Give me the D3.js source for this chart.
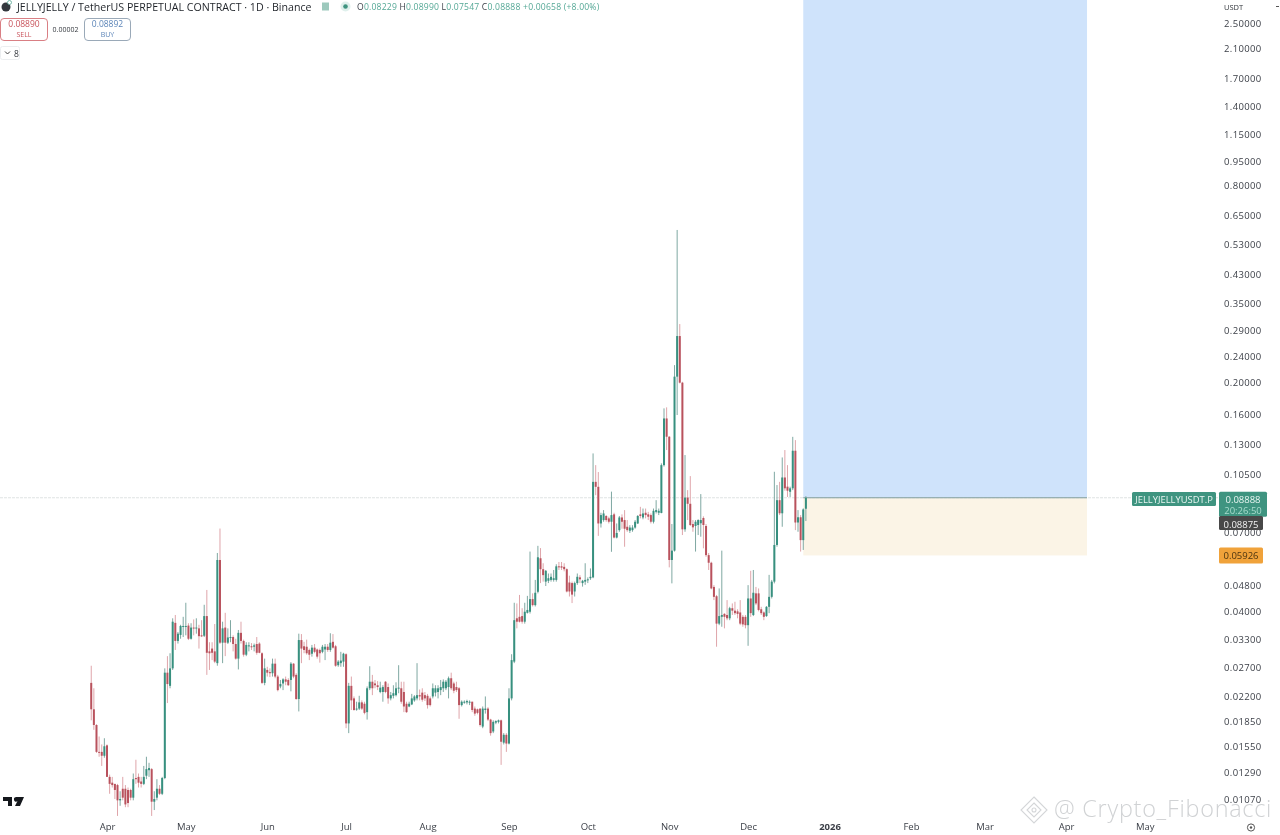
<!DOCTYPE html>
<html>
<head>
<meta charset="utf-8">
<script src="https://cdn.jsdelivr.net/npm/d3@7"></script>
<style>
  html, body { margin: 0; padding: 0; background: #fff; overflow: hidden; }
  svg { display: block; filter: blur(0.35px); }
  text { font-family: "Open Sans", "Noto Sans", sans-serif; }
  .axis path, .axis line { display: none; }
</style>
</head>
<body>
<div id="chart"></div>
<script>
// daily candles, first one is 2025-03-26
const firstDay = new Date(2025, 2, 26);

const opens = [
  .0242,.0201,.0180,.0149,.0149,.0145,.0156,.0125,.0120,.0119,
  .0118,.0106,.0115,.0115,.0114,.0114,.0108,.0124,.0125,.0121,
  .0119,.0126,.0131,.0132,.0105,.0108,.0115,.0111,.0124,.0260,
  .0237,.0268,.0369,.0325,.0339,.0359,.0359,.0362,.0330,.0357,
  .0355,.0355,.0338,.0337,.0387,.0302,.0308,.0302,.0278,.0574,
  .0321,.0357,.0321,.0333,.0334,.0318,.0287,.0344,.0325,.0295,
  .0313,.0313,.0312,.0318,.0319,.0298,.0242,.0265,.0261,.0259,
  .0277,.0253,.0236,.0241,.0248,.0247,.0247,.0277,.0256,.0216,
  .0327,.0313,.0312,.0305,.0297,.0310,.0306,.0305,.0301,.0306,
  .0312,.0305,.0323,.0313,.0274,.0278,.0281,.0296,.0182,.0237,
  .0217,.0201,.0202,.0211,.0209,.0197,.0233,.0244,.0241,.0238,
  .0227,.0227,.0244,.0235,.0217,.0221,.0222,.0233,.0233,.0227,
  .0209,.0205,.0208,.0214,.0217,.0222,.0226,.0222,.0221,.0217,
  .0220,.0226,.0227,.0230,.0233,.0233,.0235,.0250,.0241,.0235,
  .0233,.0207,.0211,.0211,.0211,.0212,.0202,.0201,.0202,.0178,
  .0200,.0202,.0187,.0172,.0183,.0184,.0186,.0159,.0168,.0158,
  .0217,.0281,.0381,.0385,.0387,.0372,.0396,.0399,.0436,.0418,
  .0459,.0581,.0538,.0493,.0496,.0499,.0499,.0499,.0549,.0549,
  .0547,.0538,.0490,.0488,.0460,.0488,.0508,.0488,.0493,.0499,
  .0505,.0508,.0994,.0960,.0742,.0760,.0782,.0769,.0751,.0791,
  .0672,.0708,.0774,.0760,.0725,.0705,.0708,.0721,.0742,.0791,
  .0774,.0800,.0791,.0787,.0751,.0805,.0800,.0799,.1118,.1552,
  .1365,.0574,.0613,.2082,.2770,.1996,.0712,.0890,.0852,.0739,
  .0729,.0734,.0743,.0771,.0729,.0594,.0563,.0475,.0445,.0367,
  .0385,.0393,.0390,.0381,.0409,.0402,.0400,.0397,.0385,.0385,
  .0363,.0438,.0390,.0454,.0454,.0406,.0397,.0387,.0413,.0443,
  .0493,.0638,.0874,.0797,.1025,.0961,.0927,.0950,.1237,.0747,.0775,.0660,.08229
];
const highs = [
  .0273,.0233,.0181,.0166,.0157,.0164,.0157,.0127,.0125,.0119,
  .0119,.0113,.0125,.0118,.0116,.0115,.0128,.0141,.0128,.0125,
  .0135,.0144,.0138,.0133,.0113,.0123,.0118,.0125,.0268,.0292,
  .0298,.0381,.0390,.0346,.0364,.0385,.0425,.0368,.0368,.0378,
  .0381,.0364,.0376,.0419,.0465,.0322,.0322,.0366,.0603,.0716,
  .0372,.0396,.0355,.0376,.0338,.0330,.0351,.0372,.0328,.0322,
  .0322,.0320,.0319,.0334,.0322,.0300,.0287,.0271,.0268,.0287,
  .0287,.0256,.0247,.0250,.0253,.0250,.0280,.0278,.0259,.0342,
  .0341,.0323,.0328,.0308,.0316,.0318,.0308,.0308,.0316,.0318,
  .0318,.0343,.0341,.0316,.0284,.0301,.0299,.0298,.0242,.0253,
  .0220,.0212,.0221,.0214,.0212,.0236,.0272,.0256,.0247,.0245,
  .0244,.0238,.0245,.0241,.0227,.0238,.0243,.0274,.0244,.0244,
  .0212,.0212,.0224,.0222,.0278,.0231,.0233,.0227,.0224,.0220,
  .0241,.0238,.0238,.0247,.0248,.0247,.0253,.0260,.0244,.0244,
  .0235,.0214,.0214,.0215,.0214,.0212,.0205,.0202,.0202,.0205,
  .0220,.0204,.0188,.0186,.0186,.0187,.0187,.0170,.0170,.0233,
  .0296,.0425,.0423,.0449,.0409,.0425,.0446,.0609,.0454,.0499,
  .0634,.0624,.0561,.0535,.0522,.0522,.0535,.0557,.0566,.0566,
  .0561,.0541,.0514,.0493,.0493,.0522,.0516,.0499,.0561,.0508,
  .0541,.1214,.1118,.1065,.0800,.0815,.0787,.0778,.0928,.0800,
  .0742,.0782,.0791,.0815,.0760,.0733,.0733,.0760,.0787,.0834,
  .0824,.0824,.0805,.0796,.0824,.0874,.0824,.1132,.1666,.1678,
  .1371,.0739,.2258,.5837,.3013,.2008,.1200,.0938,.1035,.0760,
  .0760,.0764,.0912,.0780,.0739,.0603,.0567,.0481,.0449,.0470,
  .0613,.0395,.0433,.0413,.0423,.0428,.0406,.0433,.0390,.0390,
  .0481,.0532,.0535,.0475,.0470,.0413,.0400,.0415,.0517,.0499,
  .1067,.0972,.0994,.1180,.1243,.1118,.0961,.1364,.1333,.0815,.0787,.0825,.0899
];
const lows = [
  .0186,.0174,.0148,.0144,.0135,.0143,.0125,.0111,.0116,.0107,
  .0095,.0102,.0106,.0101,.0101,.0106,.0106,.0119,.0116,.0116,
  .0118,.0123,.0125,.0095,.0099,.0106,.0110,.0110,.0123,.0210,
  .0233,.0265,.0305,.0319,.0330,.0334,.0338,.0327,.0328,.0338,
  .0342,.0308,.0334,.0334,.0256,.0265,.0284,.0278,.0273,.0318,
  .0278,.0292,.0318,.0322,.0302,.0285,.0266,.0319,.0291,.0292,
  .0302,.0305,.0302,.0295,.0298,.0240,.0238,.0253,.0252,.0253,
  .0250,.0228,.0233,.0230,.0238,.0237,.0228,.0250,.0215,.0198,
  .0278,.0298,.0295,.0284,.0291,.0298,.0287,.0279,.0298,.0284,
  .0301,.0301,.0308,.0271,.0271,.0271,.0271,.0176,.0170,.0200,
  .0199,.0199,.0200,.0200,.0194,.0187,.0230,.0222,.0233,.0230,
  .0225,.0212,.0225,.0209,.0214,.0217,.0220,.0225,.0209,.0197,
  .0196,.0204,.0207,.0212,.0214,.0214,.0212,.0213,.0202,.0205,
  .0217,.0220,.0217,.0222,.0227,.0230,.0217,.0230,.0225,.0227,
  .0188,.0205,.0209,.0208,.0207,.0197,.0192,.0194,.0178,.0176,
  .0195,.0185,.0167,.0170,.0181,.0182,.0136,.0157,.0149,.0157,
  .0214,.0278,.0355,.0370,.0367,.0367,.0394,.0394,.0414,.0414,
  .0454,.0488,.0493,.0478,.0488,.0493,.0493,.0493,.0535,.0535,
  .0530,.0457,.0444,.0424,.0444,.0482,.0488,.0476,.0482,.0488,
  .0499,.0505,.0905,.0680,.0721,.0751,.0751,.0742,.0608,.0668,
  .0668,.0700,.0715,.0630,.0700,.0694,.0700,.0715,.0739,.0769,
  .0764,.0769,.0760,.0742,.0742,.0796,.0787,.0797,.1107,.1243,
  .0545,.0487,.0609,.1590,.1985,.0684,.0700,.0760,.0729,.0700,
  .0609,.0684,.0676,.0623,.0587,.0535,.0467,.0433,.0312,.0363,
  .0359,.0355,.0376,.0376,.0390,.0390,.0381,.0363,.0359,.0355,
  .0314,.0385,.0387,.0418,.0400,.0390,.0376,.0385,.0395,.0438,
  .0487,.0630,.0787,.0725,.0934,.0894,.0894,.0938,.0708,.0700,.0609,.0616,.07547
];
const closes = [
  .0201,.0180,.0149,.0148,.0145,.0155,.0125,.0119,.0118,.0114,
  .0106,.0107,.0108,.0103,.0104,.0108,.0123,.0123,.0120,.0119,
  .0125,.0132,.0133,.0105,.0107,.0115,.0111,.0124,.0260,.0240,
  .0268,.0372,.0325,.0342,.0361,.0361,.0361,.0330,.0357,.0355,
  .0357,.0336,.0337,.0387,.0299,.0298,.0299,.0281,.0574,.0321,
  .0355,.0321,.0333,.0334,.0318,.0287,.0344,.0325,.0295,.0316,
  .0315,.0312,.0315,.0299,.0299,.0242,.0268,.0260,.0259,.0277,
  .0253,.0230,.0240,.0248,.0244,.0238,.0277,.0253,.0216,.0327,
  .0308,.0305,.0298,.0295,.0310,.0301,.0291,.0298,.0312,.0312,
  .0305,.0321,.0310,.0273,.0281,.0283,.0297,.0182,.0237,.0214,
  .0200,.0202,.0211,.0202,.0196,.0233,.0244,.0233,.0238,.0235,
  .0234,.0235,.0227,.0217,.0222,.0225,.0233,.0234,.0212,.0205,
  .0197,.0209,.0217,.0220,.0222,.0220,.0215,.0217,.0207,.0207,
  .0233,.0233,.0233,.0235,.0244,.0244,.0250,.0233,.0229,.0230,
  .0207,.0212,.0212,.0213,.0212,.0200,.0195,.0196,.0180,.0202,
  .0202,.0187,.0170,.0184,.0185,.0186,.0160,.0168,.0158,.0217,
  .0284,.0376,.0372,.0372,.0372,.0399,.0404,.0436,.0418,.0456,
  .0585,.0538,.0516,.0532,.0505,.0510,.0505,.0549,.0547,.0544,
  .0538,.0460,.0460,.0450,.0488,.0510,.0501,.0496,.0499,.0501,
  .0510,.0994,.0960,.0742,.0787,.0796,.0760,.0751,.0787,.0672,
  .0694,.0774,.0751,.0715,.0708,.0721,.0721,.0751,.0782,.0782,
  .0796,.0787,.0778,.0751,.0811,.0815,.0811,.1118,.1552,.1365,
  .0574,.0613,.2082,.2770,.1996,.0712,.0890,.0852,.0734,.0722,
  .0751,.0760,.0760,.0734,.0594,.0563,.0470,.0443,.0367,.0387,
  .0390,.0385,.0381,.0409,.0402,.0395,.0393,.0367,.0365,.0363,
  .0438,.0395,.0456,.0423,.0404,.0395,.0385,.0413,.0443,.0493,
  .0638,.0874,.0797,.1025,.0950,.0934,.0950,.1237,.0747,.0775,.0660,.0819,.08888
];

const priceTicks = [2.5, 2.1, 1.7, 1.4, 1.15, .95, .8, .65, .53, .43, .35, .29, .24, .2, .16, .13, .105,
  .07, .048, .04, .033, .027, .022, .0185, .0155, .0129, .0107];
const monthTicks = [
  [new Date(2025, 3, 1), 'Apr'], [new Date(2025, 4, 1), 'May'], [new Date(2025, 5, 1), 'Jun'],
  [new Date(2025, 6, 1), 'Jul'], [new Date(2025, 7, 1), 'Aug'], [new Date(2025, 8, 1), 'Sep'],
  [new Date(2025, 9, 1), 'Oct'], [new Date(2025, 10, 1), 'Nov'], [new Date(2025, 11, 1), 'Dec'],
  [new Date(2026, 0, 1), '2026'], [new Date(2026, 1, 1), 'Feb'], [new Date(2026, 2, 1), 'Mar'],
  [new Date(2026, 3, 1), 'Apr'], [new Date(2026, 4, 1), 'May']
];

// long position tool
const entryPrice = .08888, stopPrice = .05926, targetPrice = 4;
const positionStart = new Date(2025, 11, 22), positionEnd = new Date(2026, 3, 9);
const lastPrice = .08888, bidPrice = .08875;

const width = 1280, height = 835;
const up = '#37907f', down = '#b9525d';

const x = d3.scaleTime()
  .domain([new Date(2025, 3, 1), new Date(2026, 3, 1)])
  .range([107, 1066]);
const y = d3.scaleLog()
  .domain([2.5, .0107])
  .range([23, 799]);

const candles = closes.map((c, i) => ({
  day: d3.timeDay.offset(firstDay, i), open: opens[i], high: highs[i], low: lows[i], close: c
}));

const svg = d3.select('#chart').append('svg')
  .attr('width', width).attr('height', height);

// position boxes
svg.append('rect')
  .attr('x', x(positionStart)).attr('width', x(positionEnd) - x(positionStart))
  .attr('y', y(targetPrice)).attr('height', y(entryPrice) - y(targetPrice))
  .attr('fill', '#cfe3fb');
svg.append('rect')
  .attr('x', x(positionStart)).attr('width', x(positionEnd) - x(positionStart))
  .attr('y', y(entryPrice)).attr('height', y(stopPrice) - y(entryPrice))
  .attr('fill', '#fbf4e6');

// last price line
svg.append('line')
  .attr('x1', 0).attr('x2', 1218).attr('y1', y(lastPrice)).attr('y2', y(lastPrice))
  .attr('stroke', '#dfe3e3').attr('stroke-dasharray', '3 1');
svg.append('line')
  .attr('x1', x(positionStart)).attr('x2', x(positionEnd)).attr('y1', y(entryPrice)).attr('y2', y(entryPrice))
  .attr('stroke', '#7f9c9f').attr('stroke-width', 1.2);

// candles
const g = svg.append('g');
g.selectAll('.wick').data(candles).join('line')
  .attr('class', 'wick')
  .attr('x1', d => x(d.day)).attr('x2', d => x(d.day))
  .attr('y1', d => y(d.high)).attr('y2', d => y(d.low))
  .attr('stroke', d => d.close >= d.open ? '#7fa8a2' : '#dfa5aa')
  .attr('stroke-width', 1);
g.selectAll('.body').data(candles).join('rect')
  .attr('class', 'body')
  .attr('x', d => x(d.day) - 1).attr('width', 2)
  .attr('y', d => y(Math.max(d.open, d.close)))
  .attr('height', d => Math.max(1, Math.abs(y(d.open) - y(d.close))))
  .attr('fill', d => d.close >= d.open ? up : down);

// axes
const yAxis = svg.append('g').attr('class', 'axis')
  .attr('transform', 'translate(1217,0.5)')
  .call(d3.axisRight(y).tickValues(priceTicks).tickFormat(d3.format('.5f')).tickSize(0).tickPadding(7));
yAxis.selectAll('text').attr('fill', '#3a3e46').style('font-size', '9.5px').style('letter-spacing', '.35px');

const xAxis = svg.append('g').attr('class', 'axis')
  .attr('transform', 'translate(0,821)')
  .call(d3.axisBottom(x).tickValues(monthTicks.map(d => d[0]))
    .tickFormat((d, i) => monthTicks[i][1]).tickSize(0).tickPadding(2));
xAxis.selectAll('text')
  .attr('fill', '#3a3e46').style('font-size', '9.5px')
  .style('font-weight', (d, i) => monthTicks[i][1] === '2026' ? 700 : 400);

// price labels
function tag(xp, yp, w, h, fill) {
  svg.append('rect').attr('x', xp).attr('y', yp).attr('width', w).attr('height', h).attr('rx', 1.5).attr('fill', fill);
}
function label(xp, yp, s, size, fill, anchor, weight) {
  return svg.append('text').attr('x', xp).attr('y', yp).text(s)
    .attr('fill', fill).attr('text-anchor', anchor || 'start')
    .style('font-size', size + 'px').style('font-weight', weight || 400);
}
tag(1132, 492, 84, 14, '#3f9480');
label(1174, 502.5, 'JELLYJELLYUSDT.P', 9.4, '#e9f5f1', 'middle');
tag(1219, y(lastPrice) - 6, 48, 25, '#3f9480');
label(1243, 502.5, d3.format('.5f')(lastPrice), 9.5, '#e9f5f1', 'middle');
label(1243, 513.5, '20:26:50', 9.5, '#a9dccd', 'middle');
tag(1219, y(bidPrice) + 18, 44, 14, '#484848');
label(1241, 528, d3.format('.5f')(bidPrice), 9.5, '#f2f2f2', 'middle');
tag(1219, y(stopPrice) - 8, 44, 16, '#f0a23a');
label(1241, 559, d3.format('.5f')(stopPrice), 9.5, '#4a3410', 'middle');

// header
svg.append('circle').attr('cx', 6).attr('cy', 7).attr('r', 4.5).attr('fill', '#33373d');
svg.append('circle').attr('cx', 9.5).attr('cy', 2.5).attr('r', 2).attr('fill', '#fff').attr('stroke', '#5aa897').attr('stroke-width', .8);
label(17, 10.5, 'JELLYJELLY / TetherUS PERPETUAL CONTRACT · 1D · Binance', 10.65, '#1f2329');
svg.append('rect').attr('x', 322).attr('y', 2.5).attr('width', 7).attr('height', 8).attr('fill', '#9dc9bd');
svg.append('circle').attr('cx', 345.5).attr('cy', 6.5).attr('r', 5).attr('fill', '#dff0ec');
svg.append('circle').attr('cx', 345.5).attr('cy', 6.5).attr('r', 2.3).attr('fill', '#3f9480');

const ohlcText = svg.append('text').attr('x', 357).attr('y', 9.5).style('font-size', '8.6px').style('letter-spacing', '.2px');
[['O', '#3a3e46'], ['0.08229', '#55a896'], [' H', '#3a3e46'], ['0.08990', '#55a896'], [' L', '#3a3e46'], ['0.07547', '#55a896'],
  [' C', '#3a3e46'], ['0.08888', '#55a896'], [' +0.00658 (+8.00%)', '#55a896']].forEach(d => {
  ohlcText.append('tspan').attr('fill', d[1]).attr('xml:space', 'preserve').text(d[0]);
});

svg.append('rect').attr('x', .5).attr('y', 18.5).attr('width', 47).attr('height', 22).attr('rx', 3.5)
  .attr('fill', '#fff').attr('stroke', '#d97f84');
label(24, 27, '0.08890', 8.5, '#c9545c', 'middle');
label(24, 37, 'SELL', 7, '#c9545c', 'middle');
label(65.5, 31.5, '0.00002', 7, '#33373d', 'middle');
svg.append('rect').attr('x', 84.5).attr('y', 18.5).attr('width', 46).attr('height', 22).attr('rx', 3.5)
  .attr('fill', '#fff').attr('stroke', '#9aa9b8');
label(107.5, 27, '0.08892', 8.5, '#5c85b8', 'middle');
label(107.5, 37, 'BUY', 7, '#5c85b8', 'middle');
svg.append('rect').attr('x', .5).attr('y', 46.5).attr('width', 19).attr('height', 13).attr('rx', 2)
  .attr('fill', '#fff').attr('stroke', '#eceef0');
svg.append('path').attr('d', 'M5 51.5 L7.5 54 L10 51.5').attr('fill', 'none').attr('stroke', '#444');
label(14, 56.5, '8', 8.5, '#33373d');

// units and settings
label(1224, 9.5, 'USDT', 7.5, '#33373d');
svg.append('rect').attr('x', 1276).attr('y', 6).attr('width', 3).attr('height', 1).attr('fill', '#555');
svg.append('circle').attr('cx', 1251).attr('cy', 827.5).attr('r', 3.6).attr('fill', 'none').attr('stroke', '#555');
svg.append('circle').attr('cx', 1251).attr('cy', 827.5).attr('r', 1.2).attr('fill', '#555');

// tradingview mark
svg.append('path')
  .attr('d', 'M3 797 H12 V806 H8 V801 H3 Z M17 797 H24 L20 806 H15 L17.5 801 A2 2 0 0 1 14 800 A2.4 2.4 0 0 1 17 797 Z')
  .attr('fill', '#15181d');

// watermark
const mark = svg.append('g').attr('fill', 'none').attr('stroke', '#d4d6d8').attr('stroke-width', 1.1);
mark.append('path').attr('d', 'M1034 797 L1047 810 L1034 823 L1021 810 Z');
mark.append('path').attr('d', 'M1034 803 L1041 810 L1034 817 L1027 810 Z');
mark.append('circle').attr('cx', 1034).attr('cy', 810).attr('r', 2);
label(1054, 816.5, '@ Crypto_Fibonacci', 23.4, '#d0d2d4').style('font-weight', 300).style('letter-spacing', '.75px');
</script>
</body>
</html>
